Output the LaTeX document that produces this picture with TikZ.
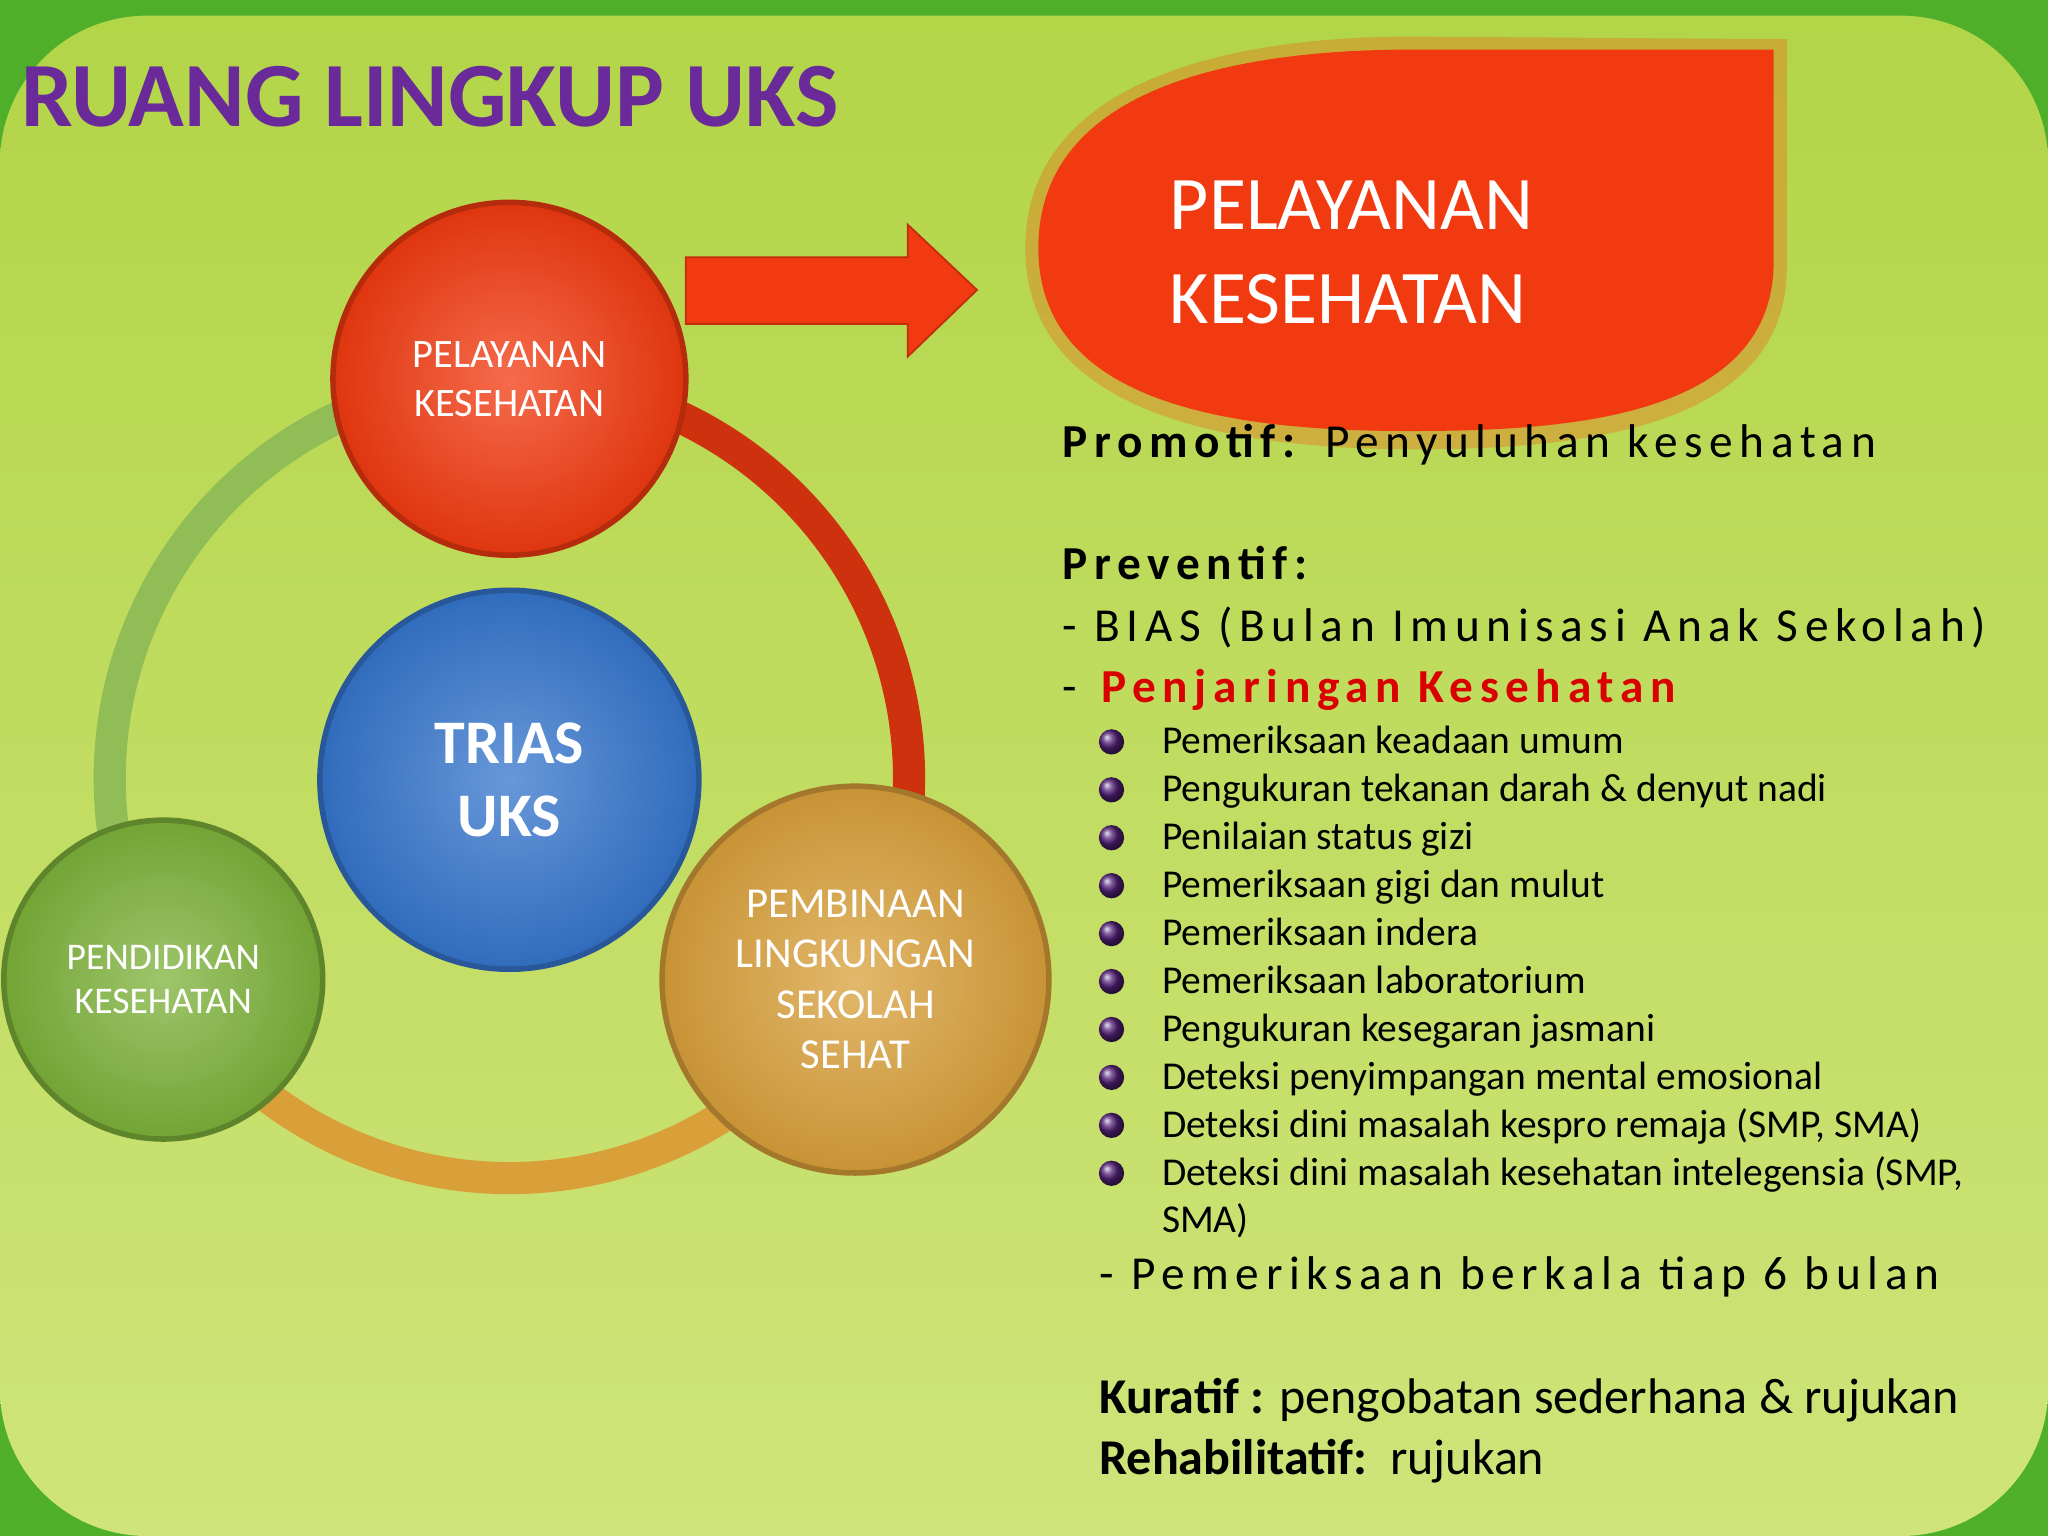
\documentclass[tikz,border=0pt]{standalone}
\usepackage{fontspec}
\setmainfont{Carlito}
\newfontfamily\spaced[LetterSpace=14]{Carlito}
\usetikzlibrary{shadings,shadows}
\definecolor{bgout}{HTML}{4FAE2A}
\definecolor{bgin}{HTML}{B3D548}
\definecolor{bgin2}{HTML}{CFE47A}
\definecolor{redc}{HTML}{F23A10}
\definecolor{bluec}{HTML}{3575CC}
\definecolor{greenc}{HTML}{7DB23A}
\definecolor{orangec}{HTML}{D9A03A}
\definecolor{ttl}{HTML}{6A2A9A}
\tikzset{
 circ/.style={circle,draw=#1!75!black,line width=1.2pt,inner color=#1!75!white,outer color=#1!92!black,text=white,align=center},
 item/.style={anchor=base west,inner sep=0pt,font=\fontsize{8.6pt}{10pt}\selectfont},
 big/.style={anchor=base west,inner sep=0pt,font=\spaced\fontsize{10.3pt}{12pt}\selectfont},
 bul/.style={circle,inner sep=0pt,minimum size=5.5pt,ball color=ttl!80!black}
}
\begin{document}
\begin{tikzpicture}[x=0.01cm,y=-0.01cm]
\useasboundingbox (0,0) rectangle (1568,1176);
\fill[bgout] (0,0) rectangle (1568,1176);
\shade[rounded corners=32pt,top color=bgin,bottom color=bgin2] (0,12) rectangle (1568,1176);
% title
\node[anchor=base west,inner sep=0pt,text=ttl,font=\bfseries\fontsize{20pt}{24pt}\selectfont] (title) at (16,97) {RUANG LINGKUP UKS};
% ring
\draw[line width=7pt,greenc!85!white] (390,596) ++(-215:306) arc[start angle=-215,end angle=-105,radius=306];
\draw[line width=7pt,redc!85!black] (390,596) ++(-75:306) arc[start angle=-75,end angle=35,radius=306];
\draw[line width=7pt,orangec] (390,596) ++(40:306) arc[start angle=40,end angle=140,radius=306];
% circles
\node[circ=redc,minimum size=2.7cm,font=\fontsize{8.8pt}{10.7pt}\selectfont] (pel) at (390,290) {PELAYANAN\\KESEHATAN};
\node[circ=bluec,minimum size=2.9cm,font=\bfseries\fontsize{13.5pt}{16pt}\selectfont] (trias) at (390,597) {TRIAS\\UKS};
\node[circ=greenc,minimum size=2.44cm,font=\fontsize{8.2pt}{9.5pt}\selectfont] (pend) at (125,750) {PENDIDIKAN\\KESEHATAN};
\node[circ=orangec,minimum size=2.96cm,font=\fontsize{9.3pt}{11pt}\selectfont] (pemb) at (655,750) {PEMBINAAN\\LINGKUNGAN\\SEKOLAH\\SEHAT};
% arrow
\fill[redc,draw=redc!80!black] (525,197) -- (695,197) -- (695,172) -- (748,222) -- (695,273) -- (695,248) -- (525,248) -- cycle;
% blob
\fill[redc!70!orange,opacity=0.3] (1368,30) -- (1368,205) to[out=-90,in=0] (1085,344) to[out=180,in=-90] (785,190) to[out=90,in=180] (1080,28) -- cycle;
\fill[redc] (1358,38) -- (1358,200) to[out=-90,in=0] (1080,330) to[out=180,in=-90] (795,190) to[out=90,in=180] (1080,38) -- cycle;
\node[anchor=north west,align=left,text=white,font=\fontsize{16.5pt}{20.5pt}\selectfont,inner sep=0pt] (blobt) at (895,138) {PELAYANAN\\KESEHATAN};
% text
\node[big] (prom) at (813,350) {\textbf{Promotif:} Penyuluhan kesehatan};
\node[big] (prev) at (813,444) {\textbf{Preventif:}};
\node[big] (bias) at (813,491) {- BIAS (Bulan Imunisasi Anak Sekolah)};
\node[big] (penj) at (813,538) {- \textbf{\color{red!85!black}Penjaringan Kesehatan}};
\foreach \t [count=\i] in {Pemeriksaan keadaan umum,Pengukuran tekanan darah \& denyut nadi,Penilaian status gizi,Pemeriksaan gigi dan mulut,Pemeriksaan indera,Pemeriksaan laboratorium,Pengukuran kesegaran jasmani,Deteksi penyimpangan mental emosional,Deteksi dini masalah kespro remaja (SMP{,} SMA),Deteksi dini masalah kesehatan intelegensia (SMP{,}}{
 \node[item] (it\i) at (889,{577+36.7*(\i-1)}) {\t};
 \node[bul] (b\i) at (851,{568+36.7*(\i-1)}) {};
}
\node[item] (it11) at (889,944) {SMA)};
\node[big] (berk) at (841,987) {- Pemeriksaan berkala tiap 6 bulan};
\node[anchor=base west,inner sep=0pt,font=\fontsize{10.9pt}{12pt}\selectfont] (kur) at (841,1082) {\textbf{Kuratif :} pengobatan sederhana \& rujukan};
\node[anchor=base west,inner sep=0pt,font=\fontsize{10.9pt}{12pt}\selectfont] (reh) at (841,1129) {\textbf{Rehabilitatif:}\ \ rujukan};
\end{tikzpicture}
\end{document}
